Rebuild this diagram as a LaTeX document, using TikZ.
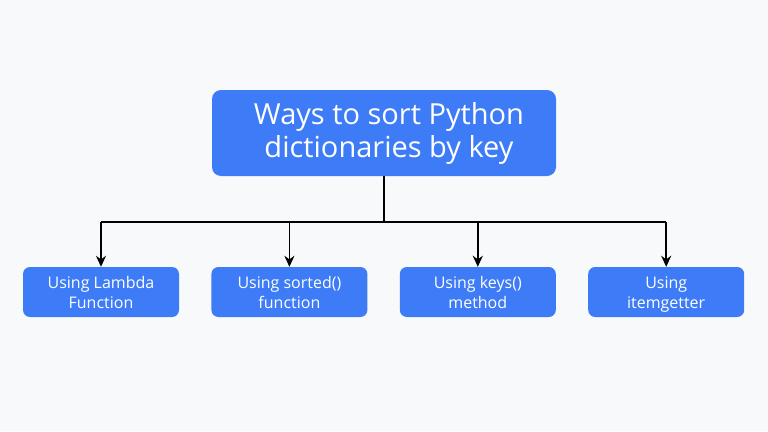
\documentclass[tikz,border=0pt]{standalone}
\usepackage{fontspec}
\setmainfont{Open Sans}
\usepackage{tikz}
\usetikzlibrary{positioning,arrows.meta}
\definecolor{boxblue}{HTML}{3D7BF7}
\definecolor{paper}{HTML}{F8F9FA}

\begin{document}
\begin{tikzpicture}[x=1pt, y=-1pt, node distance=32pt, auto]

    % Define styles
    \tikzstyle{titlebox} = [rectangle, fill=boxblue, text=white, minimum width=344pt, minimum height=86pt, rounded corners=9pt, align=center, font=\fontsize{29}{33}\selectfont]
    \tikzstyle{method} = [rectangle, fill=boxblue, text=white, minimum width=156pt, minimum height=50pt, text height=36pt, text depth=4pt, rounded corners=7pt, align=center, font=\fontsize{16}{20}\selectfont]
    \tikzstyle{link} = [line width=1.8pt, black]
    \tikzstyle{flow} = [link, -{Stealth[length=11pt, width=10pt]}]

    % Page
    \fill [paper] (0,0) rectangle (768,431);
    \useasboundingbox (0,0) rectangle (768,431);

    % Main question
    \node [titlebox] (ways) at (384,133) {\hspace{10pt}Ways to sort Python\\\hspace{10pt}dictionaries by key};

    % Methods
    \node [method] (lambda) at (101,292) {Using Lambda\\Function};
    \node [method, right=of lambda] (sorted) {Using sorted()\\function};
    \node [method, right=of sorted] (keys) {Using keys()\\method};
    \node [method, right=of keys] (getter) {Using\\itemgetter};

    % Branch point
    \coordinate (split) at (384,222);

    % Flows
    \draw [link] (ways) -- (split);
    \draw [link] (split -| lambda) -- (split -| getter);
    \draw [flow] (split -| lambda) -- (lambda);
    \draw [flow] (split -| sorted) -- (sorted);
    \draw [flow] (split -| keys) -- (keys);
    \draw [flow] (split -| getter) -- (getter);

\end{tikzpicture}
\end{document}
